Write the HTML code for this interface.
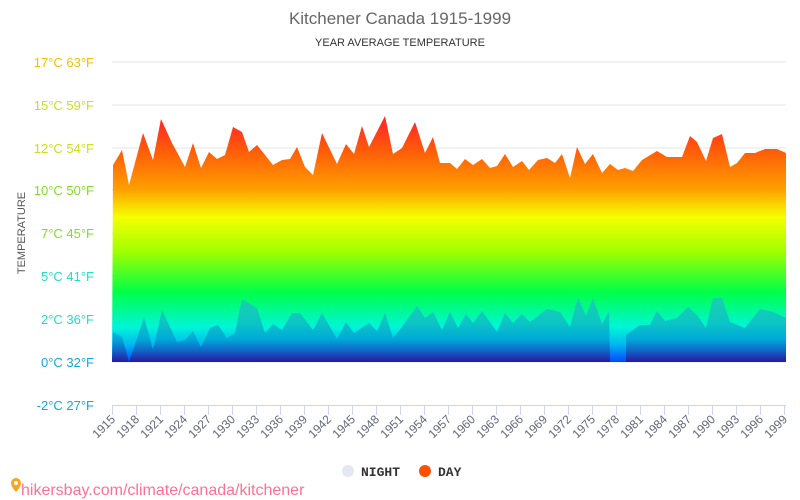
<!DOCTYPE html>
<html><head><meta charset="utf-8"><style>
body{margin:0;background:#fff;}
svg{display:block;font-family:"Liberation Sans",sans-serif;}
</style></head><body>
<svg width="800" height="500" viewBox="0 0 800 500" xmlns="http://www.w3.org/2000/svg">
<defs>
<linearGradient id="dg" gradientUnits="userSpaceOnUse" x1="0" y1="112" x2="0" y2="362">
<stop offset="0" stop-color="#ff1a30"/>
<stop offset="0.15" stop-color="#ff5a0a"/>
<stop offset="0.31" stop-color="#ffa000"/>
<stop offset="0.42" stop-color="#f5ff00"/>
<stop offset="0.56" stop-color="#a0ff00"/>
<stop offset="0.72" stop-color="#00ff48"/>
<stop offset="0.86" stop-color="#00f5d8"/>
<stop offset="0.93" stop-color="#00b8f0"/>
<stop offset="1" stop-color="#0048ff"/>
</linearGradient>
<linearGradient id="ng" gradientUnits="userSpaceOnUse" x1="0" y1="296" x2="0" y2="362">
<stop offset="0" stop-color="#18d2a8"/>
<stop offset="0.4" stop-color="#0cc6c4"/>
<stop offset="0.65" stop-color="#00aad8"/>
<stop offset="0.82" stop-color="#1068c8"/>
<stop offset="1" stop-color="#2a18a0"/>
</linearGradient>
</defs>
<text x="400" y="24" text-anchor="middle" font-size="17" fill="#666">Kitchener Canada 1915-1999</text>
<text x="400" y="46" text-anchor="middle" font-size="11" fill="#333">YEAR AVERAGE TEMPERATURE</text>
<g stroke="#e6e6e6" stroke-width="1">
<line x1="112" y1="62" x2="786" y2="62"/><line x1="112" y1="105" x2="786" y2="105"/>
<line x1="112" y1="148" x2="786" y2="148"/><line x1="112" y1="190" x2="786" y2="190"/>
<line x1="112" y1="233" x2="786" y2="233"/><line x1="112" y1="276" x2="786" y2="276"/>
<line x1="112" y1="319" x2="786" y2="319"/><line x1="112" y1="362" x2="786" y2="362"/>
</g>
<g font-size="13" text-anchor="end">
<text x="94" y="67" fill="#f5c000">17°C 63°F</text>
<text x="94" y="110" fill="#c8e020">15°C 59°F</text>
<text x="94" y="153" fill="#c8e020">12°C 54°F</text>
<text x="94" y="195" fill="#80e020">10°C 50°F</text>
<text x="94" y="238" fill="#80e020">7°C 45°F</text>
<text x="94" y="281" fill="#20e0c0">5°C 41°F</text>
<text x="94" y="324" fill="#20e0c0">2°C 36°F</text>
<text x="94" y="367" fill="#10a8e0">0°C 32°F</text>
<text x="94" y="410" fill="#10a8e0">-2°C 27°F</text>
</g>
<text transform="translate(25,233) rotate(-90)" text-anchor="middle" font-size="11" fill="#555">TEMPERATURE</text>
<path fill="url(#dg)" d="M112,362 L113,165 122,150 129,185 143,133 153,160 161,119 172,143 185,167 193,143 201,168 209,152 217,159 225,155 233,127 242,132 249,152 257,145 273,165 282,160 290,159 297,147 305,167 313,175 322,133 337,164 346,144 354,154 362,126 369,147 385,116 393,154 402,148 415,122 425,153 433,137 440,163 450,163 457,169 465,159 473,165 482,159 490,168 497,166 505,154 513,167 522,161 529,170 538,160 547,158 555,163 562,154 570,178 577,147 585,164 593,154 602,173 610,164 618,170 625,168 633,171 642,160 657,151 667,157 682,157 690,136 697,142 706,161 713,138 722,134 730,167 737,163 745,153 755,153 765,149 777,149 786,153 L786,362 Z"/>
<path fill="url(#ng)" d="M112,362 L113,332 122,337 129,362 144,317 153,350 162,310 177,342 185,340 193,331 201,347 210,328 218,325 227,338 235,333 242,299 257,308 265,333 273,324 282,330 292,313 300,313 313,330 322,313 337,339 346,322 354,333 369,323 377,331 385,313 393,338 402,327 417,306 425,318 433,312 442,330 450,312 458,328 466,314 473,323 482,311 497,332 505,313 513,323 522,314 530,322 547,309 560,312 570,327 578,297 586,316 593,298 602,324 609,312 L610,362 Z"/>
<path fill="url(#ng)" d="M626,362 L626,335 640,325 650,325 657,311 665,321 677,318 688,307 697,315 706,328 713,298 722,298 730,322 745,328 760,309 773,312 786,318 L786,362 Z"/>
<line x1="112" y1="405.5" x2="786" y2="405.5" stroke="#ccd6eb"/>
<g stroke="#ccd6eb">
<line x1="112.5" y1="405" x2="112.5" y2="415"/><line x1="136.5" y1="405" x2="136.5" y2="415"/><line x1="160.5" y1="405" x2="160.5" y2="415"/><line x1="184.5" y1="405" x2="184.5" y2="415"/><line x1="208.5" y1="405" x2="208.5" y2="415"/><line x1="232.5" y1="405" x2="232.5" y2="415"/><line x1="256.5" y1="405" x2="256.5" y2="415"/><line x1="280.5" y1="405" x2="280.5" y2="415"/><line x1="304.5" y1="405" x2="304.5" y2="415"/><line x1="328.5" y1="405" x2="328.5" y2="415"/><line x1="352.5" y1="405" x2="352.5" y2="415"/><line x1="376.5" y1="405" x2="376.5" y2="415"/><line x1="400.5" y1="405" x2="400.5" y2="415"/><line x1="424.5" y1="405" x2="424.5" y2="415"/><line x1="448.5" y1="405" x2="448.5" y2="415"/><line x1="472.5" y1="405" x2="472.5" y2="415"/><line x1="496.5" y1="405" x2="496.5" y2="415"/><line x1="520.5" y1="405" x2="520.5" y2="415"/><line x1="544.5" y1="405" x2="544.5" y2="415"/><line x1="568.5" y1="405" x2="568.5" y2="415"/><line x1="592.5" y1="405" x2="592.5" y2="415"/><line x1="616.5" y1="405" x2="616.5" y2="415"/><line x1="640.5" y1="405" x2="640.5" y2="415"/><line x1="664.5" y1="405" x2="664.5" y2="415"/><line x1="688.5" y1="405" x2="688.5" y2="415"/><line x1="712.5" y1="405" x2="712.5" y2="415"/><line x1="736.5" y1="405" x2="736.5" y2="415"/><line x1="760.5" y1="405" x2="760.5" y2="415"/><line x1="784.5" y1="405" x2="784.5" y2="415"/>
</g>
<g font-size="12" fill="#606878" text-anchor="end">
<text transform="translate(116,420) rotate(-45)">1915</text>
<text transform="translate(140,420) rotate(-45)">1918</text>
<text transform="translate(164,420) rotate(-45)">1921</text>
<text transform="translate(188,420) rotate(-45)">1924</text>
<text transform="translate(212,420) rotate(-45)">1927</text>
<text transform="translate(236,420) rotate(-45)">1930</text>
<text transform="translate(260,420) rotate(-45)">1933</text>
<text transform="translate(284,420) rotate(-45)">1936</text>
<text transform="translate(308,420) rotate(-45)">1939</text>
<text transform="translate(332,420) rotate(-45)">1942</text>
<text transform="translate(356,420) rotate(-45)">1945</text>
<text transform="translate(380,420) rotate(-45)">1948</text>
<text transform="translate(404,420) rotate(-45)">1951</text>
<text transform="translate(428,420) rotate(-45)">1954</text>
<text transform="translate(452,420) rotate(-45)">1957</text>
<text transform="translate(476,420) rotate(-45)">1960</text>
<text transform="translate(500,420) rotate(-45)">1963</text>
<text transform="translate(524,420) rotate(-45)">1966</text>
<text transform="translate(548,420) rotate(-45)">1969</text>
<text transform="translate(572,420) rotate(-45)">1972</text>
<text transform="translate(596,420) rotate(-45)">1975</text>
<text transform="translate(620,420) rotate(-45)">1978</text>
<text transform="translate(644,420) rotate(-45)">1981</text>
<text transform="translate(668,420) rotate(-45)">1984</text>
<text transform="translate(692,420) rotate(-45)">1987</text>
<text transform="translate(716,420) rotate(-45)">1990</text>
<text transform="translate(740,420) rotate(-45)">1993</text>
<text transform="translate(764,420) rotate(-45)">1996</text>
<text transform="translate(788,420) rotate(-45)">1999</text>
</g>
<circle cx="348" cy="471" r="6" fill="#e4e8f0"/>
<text x="361" y="476" font-family="Liberation Mono,monospace" font-weight="bold" font-size="13" fill="#333">NIGHT</text>
<circle cx="425" cy="471" r="6" fill="#ff5000"/>
<text x="438" y="476" font-family="Liberation Mono,monospace" font-weight="bold" font-size="13" fill="#333">DAY</text>
<path d="M11,483 a5,5 0 0 1 10,0 c0,4 -5,9 -5,9 c0,0 -5,-5 -5,-9z" fill="#f5a623"/>
<circle cx="16" cy="483" r="2" fill="#fff"/>
<text x="21" y="495" font-size="16" fill="#ff7090">hikersbay.com/climate/canada/kitchener</text>
</svg>
</body></html>
